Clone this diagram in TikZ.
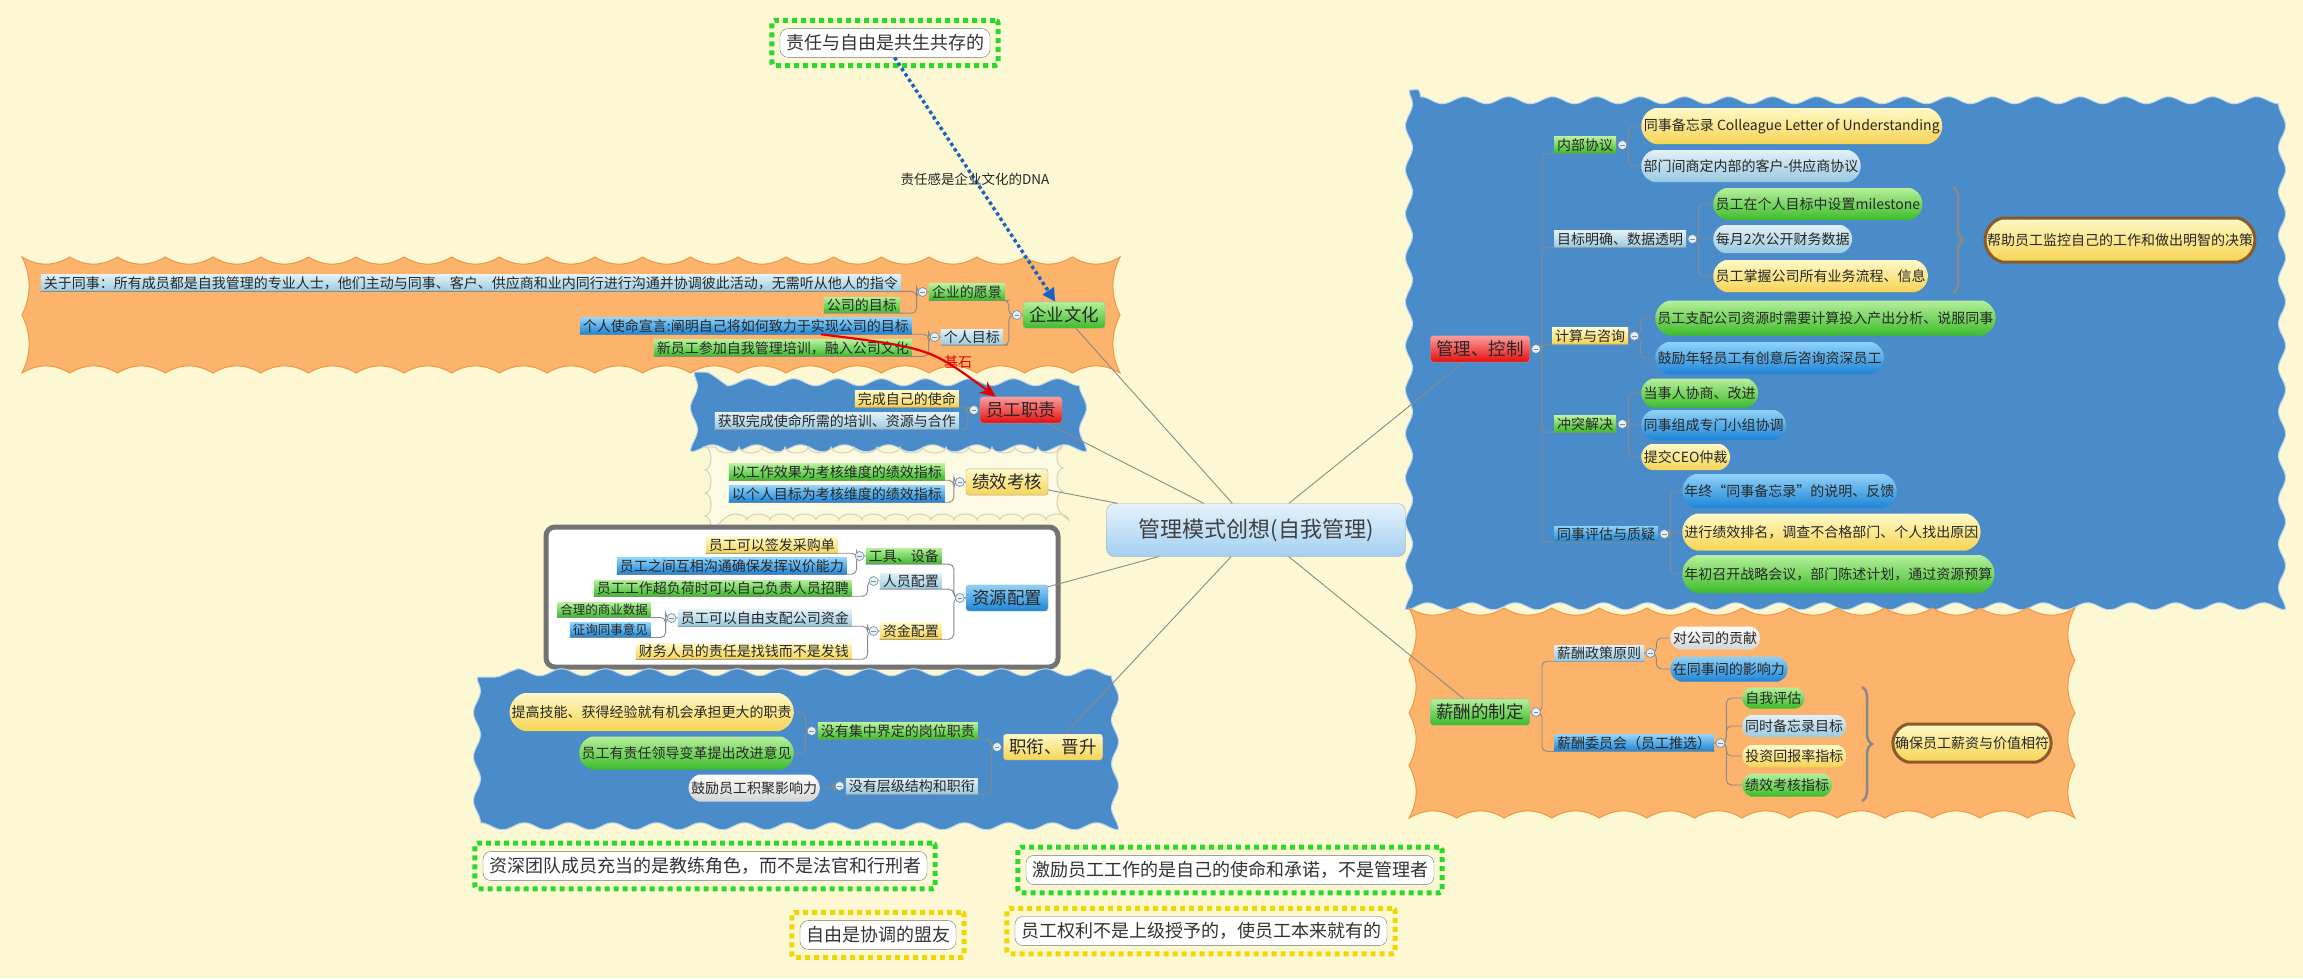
\documentclass[tikz,border=0pt]{standalone}
\usepackage{fontspec}
\setmainfont{Noto Sans CJK SC}
\usepackage{tikz}
\usetikzlibrary{shapes.misc, arrows.meta, fit, decorations.pathmorphing, decorations.pathreplacing}

\definecolor{bgcream}{HTML}{FCF8D3}
\definecolor{grnTop}{HTML}{B6F09C}
\definecolor{grnBot}{HTML}{3CBB2A}
\definecolor{yelTop}{HTML}{FFF9C8}
\definecolor{yelBot}{HTML}{F6D454}
\definecolor{ltbTop}{HTML}{E2F1F8}
\definecolor{ltbBot}{HTML}{9ACAE1}
\definecolor{bluTop}{HTML}{90D2F8}
\definecolor{bluBot}{HTML}{1D84D6}
\definecolor{redTop}{HTML}{FF9C9C}
\definecolor{redBot}{HTML}{E20E0E}
\definecolor{whtBot}{HTML}{D4D4D4}
\definecolor{rootTop}{HTML}{E6F3FC}
\definecolor{rootBot}{HTML}{A4CFF2}
\definecolor{orangeFill}{HTML}{FCB46C}
\definecolor{orangeEdge}{HTML}{EE9844}
\definecolor{seaFill}{HTML}{4A8BCA}
\definecolor{cloudFill}{HTML}{FDFAE4}
\definecolor{cloudEdge}{HTML}{D6D2BC}
\definecolor{branchGrey}{HTML}{8A8A8A}
\definecolor{brownEdge}{HTML}{8B5A2B}
\definecolor{dotGreen}{HTML}{2BD92B}
\definecolor{dotYellow}{HTML}{F2D600}
\definecolor{dnaBlue}{HTML}{1862C6}

\newcommand\leaffont{\fontsize{14}{16}\selectfont}
\newcommand\tinyleaffont{\fontsize{12.5}{14}\selectfont}
\newcommand\topicfont{\fontsize{17.5}{20}\selectfont}
\newcommand\rootfont{\fontsize{22}{26}\selectfont}
\newcommand\notefont{\fontsize{18}{21}\selectfont}
\newcommand\foldat[1]{\draw[foldmark] #1 circle (4.5); \draw[branchGrey, line width=0.8] #1 ++(-2.2,0) -- ++(4.4,0);}
% x0, y0, arcos horizontales, ancho, arcos verticales, alto, profundidad
\newcommand\scallopzone[7]{%
  \path[orangezone] (#1,#2)
    \foreach \k in {1,...,#3} { .. controls +(#4/3,#7) and +(-#4/3,#7) .. ++(#4,0) }
    \foreach \k in {1,...,#5} { .. controls +(-#7,#6/3) and +(-#7,-#6/3) .. ++(0,#6) }
    \foreach \k in {1,...,#3} { .. controls +(-#4/3,-#7) and +(#4/3,-#7) .. ++(-#4,0) }
    \foreach \k in {1,...,#5} { .. controls +(#7,-#6/3) and +(#7,#6/3) .. ++(0,-#6) }
    -- cycle;}

\tikzset{
  rootbox/.style={rectangle, rounded corners=8, draw=black!35, top color=rootTop, bottom color=rootBot, minimum width=299, minimum height=53, font=\rootfont, text=black!75},
  topic/.style={rectangle, rounded corners=3, draw=black!35, inner xsep=6, inner ysep=5, font=\topicfont, text=black!85},
  leaf/.style={rectangle, inner xsep=3, inner ysep=1.5, font=\leaffont, text=black!85},
  bubble/.style={rounded rectangle, rounded rectangle arc length=150, inner xsep=1, inner ysep=1, minimum height=32, font=\leaffont, text=black!85},
  gfill/.style={top color=grnTop, bottom color=grnBot},
  yfill/.style={top color=yelTop, bottom color=yelBot},
  lbfill/.style={top color=ltbTop, bottom color=ltbBot},
  bfill/.style={top color=bluTop, bottom color=bluBot},
  rfill/.style={top color=redTop, bottom color=redBot},
  wfill/.style={top color=white, bottom color=whtBot},
  note/.style={rectangle, rounded corners=8, draw=black!55, fill=white, font=\notefont, text=black!80, inner xsep=6, inner ysep=6},
  noteframe/.style={draw=#1, line width=5, dash pattern=on 5pt off 4pt, inner sep=8, rounded corners=3},
  wavysea/.style={fill=seaFill, draw=seaFill!35!white, line width=1, decorate, decoration={snake, segment length=44, amplitude=3.5}},
  orangezone/.style={fill=orangeFill, draw=orangeEdge, line width=1},
  cloudzone/.style={fill=cloudFill, draw=cloudEdge, line width=1, decorate, decoration={bumps, segment length=46, amplitude=6}},
  resbox/.style={draw=black!55, fill=white, line width=5, rounded corners=9},
  spoke/.style={draw=branchGrey, line width=0.9},
  branch/.style={draw=branchGrey, line width=0.9, rounded corners=5},
  foldmark/.style={draw=ltbBot!70!black, fill=ltbTop, line width=0.6},
  bracemark/.style={draw=branchGrey, line width=2.5, decorate, decoration={brace, amplitude=10}},
  keyarrow/.style={draw=red!90!black, line width=2.2, -{Stealth[length=16, width=14]}},
  keylabel/.style={font=\leaffont, text=red!90!black, inner sep=1},
  dnaarrow/.style={draw=dnaBlue, line width=3.4, dash pattern=on 3.4pt off 3pt, -{Triangle[length=13, width=13]}},
  dnalabel/.style={font=\fontsize{13.5}{15}\selectfont, text=black!85}
}

\begin{document}
\begin{tikzpicture}[x=1pt, y=-1pt]
  % fondo
  \useasboundingbox (0,0) rectangle (2303,978);
  \fill[bgcream] (0,0) rectangle (2303,978);

  % zonas de fondo
  \scallopzone{22}{257}{23}{47.74}{2}{58}{9.5}
  \path[wavysea] (694,372) rectangle (1077,448);
  \path[cloudzone] (705,447) rectangle (1063,520);
  \draw[resbox] (546,527) rectangle (1058,667);
  \path[wavysea] (477,677) rectangle (1123,813);
  \path[wavysea] (1409,90) rectangle (2284,605);
  \scallopzone{1409}{608}{14}{47.57}{4}{52.5}{9.5}

  % nodo central
  \node[rootbox] (root) at (1256,530) {管理模式创想(自我管理)};

  % 企业文化
  \node[topic, gfill] (culture) at (1064,315) {企业文化};
  \node[leaf, gfill, anchor=east] (vision) at (1005,292) {企业的愿景};
  \node[leaf, lbfill, anchor=east] (peers) at (901,283) {关于同事：所有成员都是自我管理的专业人士，他们主动与同事、客户、供应商和业内同行进行沟通并协调彼此活动，无需听从他人的指令};
  \node[leaf, gfill, anchor=east] (goal) at (900,305) {公司的目标};
  \node[leaf, lbfill, anchor=east] (personal) at (1003,337) {个人目标};
  \node[leaf, bfill, anchor=east] (mission) at (912,326) {个人使命宣言:阐明自己将如何致力于实现公司的目标};
  \node[leaf, gfill, anchor=east] (training) at (912,348) {新员工参加自我管理培训，融入公司文化};

  % 员工职责
  \node[topic, rfill] (duty) at (1021,410) {员工职责};
  \node[leaf, yfill, anchor=east] (fulfil) at (959,399) {完成自己的使命};
  \node[leaf, lbfill, anchor=east] (support) at (959,421) {获取完成使命所需的培训、资源与合作};

  % 绩效考核
  \node[topic, yfill] (appraisal) at (1007,482) {绩效考核};
  \node[leaf, gfill, anchor=east] (kpiresult) at (945,472) {以工作效果为考核维度的绩效指标};
  \node[leaf, bfill, anchor=east] (kpigoal) at (945,494) {以个人目标为考核维度的绩效指标};

  % 资源配置
  \node[topic, bfill] (resource) at (1007,598) {资源配置};
  \node[leaf, gfill, anchor=east] (tools) at (942,556) {工具、设备};
  \node[leaf, yfill, anchor=east] (purchase) at (838,545) {员工可以签发采购单};
  \node[leaf, bfill, anchor=east] (bargain) at (847,566) {员工之间互相沟通确保发挥议价能力};
  \node[leaf, lbfill, anchor=east] (staffing) at (942,581) {人员配置};
  \node[leaf, gfill, anchor=east] (recruit) at (852,588) {员工工作超负荷时可以自己负责人员招聘};
  \node[leaf, yfill, anchor=east] (funding) at (942,631) {资金配置};
  \node[leaf, lbfill, anchor=east] (budget) at (852,618) {员工可以自由支配公司资金};
  \node[leaf, gfill, anchor=east, font=\tinyleaffont] (bizdata) at (651,610) {合理的商业数据};
  \node[leaf, bfill, anchor=east, font=\tinyleaffont] (consult) at (651,630) {征询同事意见};
  \node[leaf, yfill, anchor=east] (finance) at (852,651) {财务人员的责任是找钱而不是发钱};

  % 职衔、晋升
  \node[topic, yfill] (rank) at (1053,747) {职衔、晋升};
  \node[leaf, gfill, anchor=east] (nojobdef) at (978,731) {没有集中界定的岗位职责};
  \node[bubble, yfill, anchor=east, minimum height=38] (skills) at (794,712) {提高技能、获得经验就有机会承担更大的职责};
  \node[bubble, gfill, anchor=east, minimum height=33] (change) at (794,753) {员工有责任领导变革提出改进意见};
  \node[leaf, lbfill, anchor=east] (nohier) at (978,786) {没有层级结构和职衔};
  \node[bubble, wfill, anchor=east, minimum height=27] (influence) at (820,788) {鼓励员工积聚影响力};

  % 管理、控制
  \node[topic, rfill] (control) at (1480,349) {管理、控制};
  \node[leaf, gfill, anchor=west] (internal) at (1554,145) {内部协议};
  \node[bubble, yfill, anchor=west, minimum height=36] (memo) at (1641,126) {同事备忘录 Colleague Letter of Understanding};
  \node[bubble, lbfill, anchor=west] (csagree) at (1641,166) {部门间商定内部的客户-供应商协议};
  \node[leaf, lbfill, anchor=west] (transparent) at (1554,239) {目标明确、数据透明};
  \node[bubble, gfill, anchor=west] (milestone) at (1713,204) {员工在个人目标中设置milestone};
  \node[bubble, lbfill, anchor=west, minimum height=28] (monthly) at (1713,239) {每月2次公开财务数据};
  \node[bubble, yfill, anchor=west] (process) at (1713,276) {员工掌握公司所有业务流程、信息};
  \node[bubble, yfill, draw=brownEdge, line width=3, minimum height=44] (decide) at (2120,240) {帮助员工监控自己的工作和做出明智的决策};
  \node[leaf, yfill, anchor=west] (reckon) at (1552,336) {计算与咨询};
  \node[bubble, gfill, anchor=west, minimum height=35] (inout) at (1655,318) {员工支配公司资源时需要计算投入产出分析、说服同事};
  \node[bubble, bfill, anchor=west] (askseniors) at (1655,358) {鼓励年轻员工有创意后咨询资深员工};
  \node[leaf, gfill, anchor=west] (conflict) at (1554,424) {冲突解决};
  \node[bubble, gfill, anchor=west, minimum height=29] (negotiate) at (1641,393) {当事人协商、改进};
  \node[bubble, bfill, anchor=west, minimum height=30] (panel) at (1641,425) {同事组成专门小组协调};
  \node[bubble, yfill, anchor=west, minimum height=26] (ceo) at (1641,457) {提交CEO仲裁};
  \node[leaf, bfill, anchor=west] (review) at (1554,534) {同事评估与质疑};
  \node[bubble, bfill, anchor=west, minimum height=34] (yearend) at (1682,491) {年终“同事备忘录”的说明、反馈};
  \node[bubble, yfill, anchor=west, minimum height=37] (ranking) at (1682,532) {进行绩效排名，调查不合格部门、个人找出原因};
  \node[bubble, gfill, anchor=west, minimum height=38] (strategy) at (1682,574) {年初召开战略会议，部门陈述计划，通过资源预算};

  % 薪酬的制定
  \node[topic, gfill] (salary) at (1480,712) {薪酬的制定};
  \node[leaf, lbfill, anchor=west] (principle) at (1554,653) {薪酬政策原则};
  \node[bubble, wfill, anchor=west, minimum height=23] (contrib) at (1670,638) {对公司的贡献};
  \node[bubble, bfill, anchor=west, minimum height=25] (peerinf) at (1670,669) {在同事间的影响力};
  \node[leaf, bfill, anchor=west] (committee) at (1554,743) {薪酬委员会（员工推选）};
  \node[bubble, gfill, anchor=west, minimum height=21] (selfeval) at (1742,698) {自我评估};
  \node[bubble, lbfill, anchor=west, minimum height=22] (memogoal) at (1742,726) {同时备忘录目标};
  \node[bubble, yfill, anchor=west, minimum height=22] (roi) at (1742,756) {投资回报率指标};
  \node[bubble, gfill, anchor=west, minimum height=23] (kpi) at (1742,785) {绩效考核指标};
  \node[bubble, yfill, draw=brownEdge, line width=3, minimum height=38] (fair) at (1972,743) {确保员工薪资与价值相符};

  % llaves
  \draw[bracemark] (1953,187) -- (1953,293);
  \draw[bracemark] (1862,687) -- (1862,801);

  % notas sueltas
  \node[note] (freedom) at (885,43) {责任与自由是共生共存的};
  \node[noteframe=dotGreen, fit=(freedom)] (freedomframe) {};
  \node[note] (coach) at (705,866) {资深团队成员充当的是教练角色，而不是法官和行刑者};
  \node[noteframe=dotGreen, fit=(coach)] (coachframe) {};
  \node[note] (motive) at (1230,870) {激励员工工作的是自己的使命和承诺，不是管理者};
  \node[noteframe=dotGreen, fit=(motive)] (motiveframe) {};
  \node[note] (ally) at (878,935) {自由是协调的盟友};
  \node[noteframe=dotYellow, fit=(ally)] (allyframe) {};
  \node[note] (rights) at (1201,931) {员工权利不是上级授予的，使员工本来就有的};
  \node[noteframe=dotYellow, fit=(rights)] (rightsframe) {};

  % ramas principales
  \foreach \t in {culture,duty,appraisal,resource,rank,control,salary}
    \draw[spoke] (root) -- (\t);

  % ramas a la izquierda
  \foreach \p/\c/\s in {culture/vision/14, culture/personal/14, vision/peers/12, vision/goal/12,
      personal/mission/12, personal/training/12, duty/fulfil/12, duty/support/12,
      appraisal/kpiresult/12, appraisal/kpigoal/12, resource/tools/12, resource/staffing/12,
      resource/funding/12, tools/purchase/9, tools/bargain/9, staffing/recruit/12,
      funding/budget/12, funding/finance/12, budget/bizdata/12, budget/consult/12,
      rank/nojobdef/12, rank/nohier/12}
    \draw[branch] (\p.west) -- ++(-\s,0) |- (\c.south east) -- (\c.south west);
  \foreach \p/\c in {nojobdef/skills, nojobdef/change, nohier/influence}
    \draw[branch] (\p.west) -- ++(-12,0) |- (\c.east);

  % ramas a la derecha
  \foreach \p/\c in {control/internal, control/transparent, control/reckon, control/conflict,
      control/review, salary/principle, salary/committee}
    \draw[branch] (\p.east) -- ++(12,0) |- (\c.south west) -- (\c.south east);
  \foreach \p/\c in {internal/memo, internal/csagree, transparent/milestone, transparent/monthly,
      transparent/process, reckon/inout, reckon/askseniors, conflict/negotiate, conflict/panel,
      conflict/ceo, review/yearend, review/ranking, review/strategy, principle/contrib,
      principle/peerinf, committee/selfeval, committee/memogoal, committee/roi, committee/kpi}
    \draw[branch] (\p.east) -- ++(12,0) |- (\c.west);

  % marcas de plegado
  \foreach \p in {culture,vision,personal,duty,appraisal,resource,tools,staffing,funding,budget,rank,nojobdef,nohier}
    {\foldat{([xshift=-6]\p.west)}}
  \foreach \p in {control,internal,transparent,reckon,conflict,review,salary,principle,committee}
    {\foldat{([xshift=6]\p.east)}}

  % relaciones
  \node[keylabel] (keystone) at (958,362) {基石};
  \draw[keyarrow] ([xshift=-91]mission.south east) .. controls (930,348) .. ([xshift=16]duty.north west);
  \draw[dnaarrow] (freedom) -- node[dnalabel] {责任感是企业文化的DNA} (culture);
\end{tikzpicture}
\end{document}
